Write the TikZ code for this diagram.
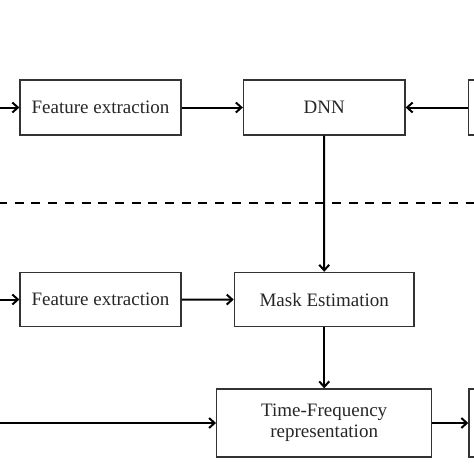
\documentclass[tikz,border=0pt]{standalone}
\usepackage{fontspec}
\setmainfont{Liberation Serif}
\usetikzlibrary{arrows.meta}
\begin{document}
\begin{tikzpicture}[x=1pt,y=-1pt,
  blk/.style={draw=black!80, line width=1.3pt, rectangle, inner sep=0pt, text=black!85,
    font=\fontsize{19}{21}\selectfont, align=center},
  arr/.style={line width=2pt, -{Straight Barb[length=5.5pt,width=10pt]}},
  sep/.style={line width=2pt, dash pattern=on 9pt off 7.7pt}]
\useasboundingbox (0,0) rectangle (474,474);
\clip (0,0) rectangle (474,474);
\node[blk, minimum width=161pt, minimum height=55pt] (fe1) at (100.5,107.5) {Feature extraction};
\node[blk, minimum width=161.5pt, minimum height=55pt] (dnn) at (324.25,107.5) {DNN};
\node[blk, minimum width=60pt, minimum height=55pt, anchor=west] (rb1) at (467.5,107.5) {};
\node[blk, minimum width=161pt, minimum height=54pt] (fe2) at (100.5,299.5) {Feature extraction};
\node[blk, minimum width=179.7pt, minimum height=54.3pt] (mask) at (324.2,299.6) {Mask Estimation};
\node[blk, minimum width=215pt, minimum height=68pt] (tf) at (324.2,423) {Time-Frequency\\representation};
\node[blk, minimum width=60pt, minimum height=68pt, anchor=west] (rb2) at (468.3,423) {};
\coordinate (in1) at (-2,107.5);
\coordinate (in2) at (-2,299.5);
\coordinate (in3) at (-2,423);
\coordinate (dl) at (-2,202.7);
\coordinate (dr) at (476,202.7);
\draw[sep] (dl) -- (dr);
\draw[arr] (in1) -- (fe1);
\draw[arr] (fe1) -- (dnn);
\draw[arr] (rb1) -- (dnn);
\draw[arr] (dnn) -- (mask);
\draw[arr] (in2) -- (fe2);
\draw[arr] (fe2) -- (mask);
\draw[arr] (mask) -- (tf);
\draw[arr] (in3) -- (tf);
\draw[arr] (tf) -- (rb2);
\end{tikzpicture}
\end{document}
